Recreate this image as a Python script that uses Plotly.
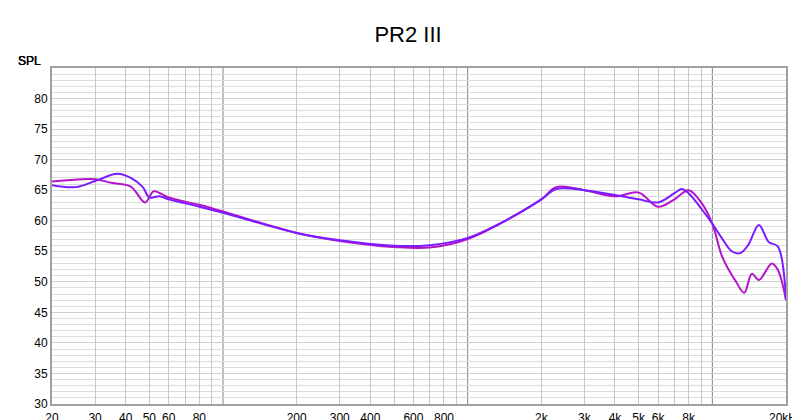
import plotly.graph_objects as go

freq_a = [20,25,30,37,42,47,50,55,60,80,100,200,300,500,700,1000,1500,2000,2300,3000,4000,5000,6000,7000,7500,8000,9000,10000,11000,12000,13000,14000,15500,17000,18500,20000]
spl_a = [65.8,65.5,66.5,67.7,67.0,65.5,63.8,64.0,63.5,62.3,61.3,58.0,56.8,55.9,56.0,57.2,60.5,63.5,65.2,65.0,64.2,63.5,63.0,64.5,65.2,64.5,62.0,59.5,57.0,55.0,54.7,56.0,59.3,56.5,55.8,47.0]
freq_b = [20,30,35,42,48,52,56,60,80,100,200,300,500,700,1000,2000,2300,3000,4000,5000,6000,7000,8000,9000,10000,11000,12500,13500,14500,15500,17500,18500,20000]
spl_b = [66.4,66.8,66.2,65.6,63.0,64.8,64.4,63.8,62.6,61.5,58.0,56.7,55.7,55.6,57.0,63.5,65.5,65.0,64.0,64.6,62.3,63.5,65.0,63.0,59.5,54.0,50.0,48.2,51.3,50.3,53.0,52.0,47.0]
labels = {20:"20",30:"30",40:"40",50:"50",60:"60",80:"80",100:"100",200:"200",300:"300",400:"400",600:"600",800:"800",1000:"1k",2000:"2k",3000:"3k",4000:"4k",5000:"5k",6000:"6k",8000:"8k",10000:"10k",20000:"20kHz"}

vals = [m*d for d in (10,100,1000,10000) for m in range(1,10) if 20 <= m*d <= 20000 and m*d not in (100,1000,10000)]
text = [labels.get(v, "") for v in vals]
dark_vals = [100, 1000, 10000]

fig = go.Figure()
fig.add_trace(go.Scatter(x=freq_b, y=spl_b, mode="lines", line=dict(color="#b414c8", width=2, shape="spline"), hoverinfo="skip"))
fig.add_trace(go.Scatter(x=freq_a, y=spl_a, mode="lines", line=dict(color="#7a1cff", width=2, shape="spline"), hoverinfo="skip"))
for v in dark_vals:
    fig.add_shape(type="line", x0=v, x1=v, y0=30, y1=85, xref="x", yref="y", line=dict(color="#808080", width=1), layer="below")
    fig.add_annotation(x=v, y=30, xref="x", yref="y", text=labels[v], showarrow=False, yanchor="top", yshift=-2, font=dict(size=12))
fig.update_layout(
    width=800, height=420, showlegend=False,
    paper_bgcolor="white", plot_bgcolor="white",
    margin=dict(l=44, r=22, t=60, b=24, autoexpand=False),
    title=dict(text="PR2 III", x=0.5, y=0.955, xanchor="center", font=dict(family="Liberation Sans, Arial", size=22, color="black")),
    font=dict(family="Liberation Sans, Arial", size=12, color="black"),
    xaxis=dict(type="log", range=[1.30103, 4.30103], tickvals=vals, ticktext=text, ticks="", ticklabelstandoff=2, showgrid=True, gridcolor="#c8c8c8", gridwidth=1, zeroline=False, showline=True, linecolor="#a0a0a0", mirror=True, linewidth=2, automargin=False),
    yaxis=dict(range=[30, 85], tickvals=[30,35,40,45,50,55,60,65,70,75,80], ticks="", showgrid=True, gridcolor="#d0d0d0", zeroline=False, showline=True, linecolor="#a0a0a0", mirror=True, linewidth=2, automargin=False,
               minor=dict(dtick=1, showgrid=True, gridcolor="#dcdcdc")),
    annotations=[dict(text="SPL", xref="paper", yref="paper", x=-0.012, y=1.0, xanchor="right", yanchor="bottom", showarrow=False, font=dict(size=12))],
)
fig.write_html("out.html")
